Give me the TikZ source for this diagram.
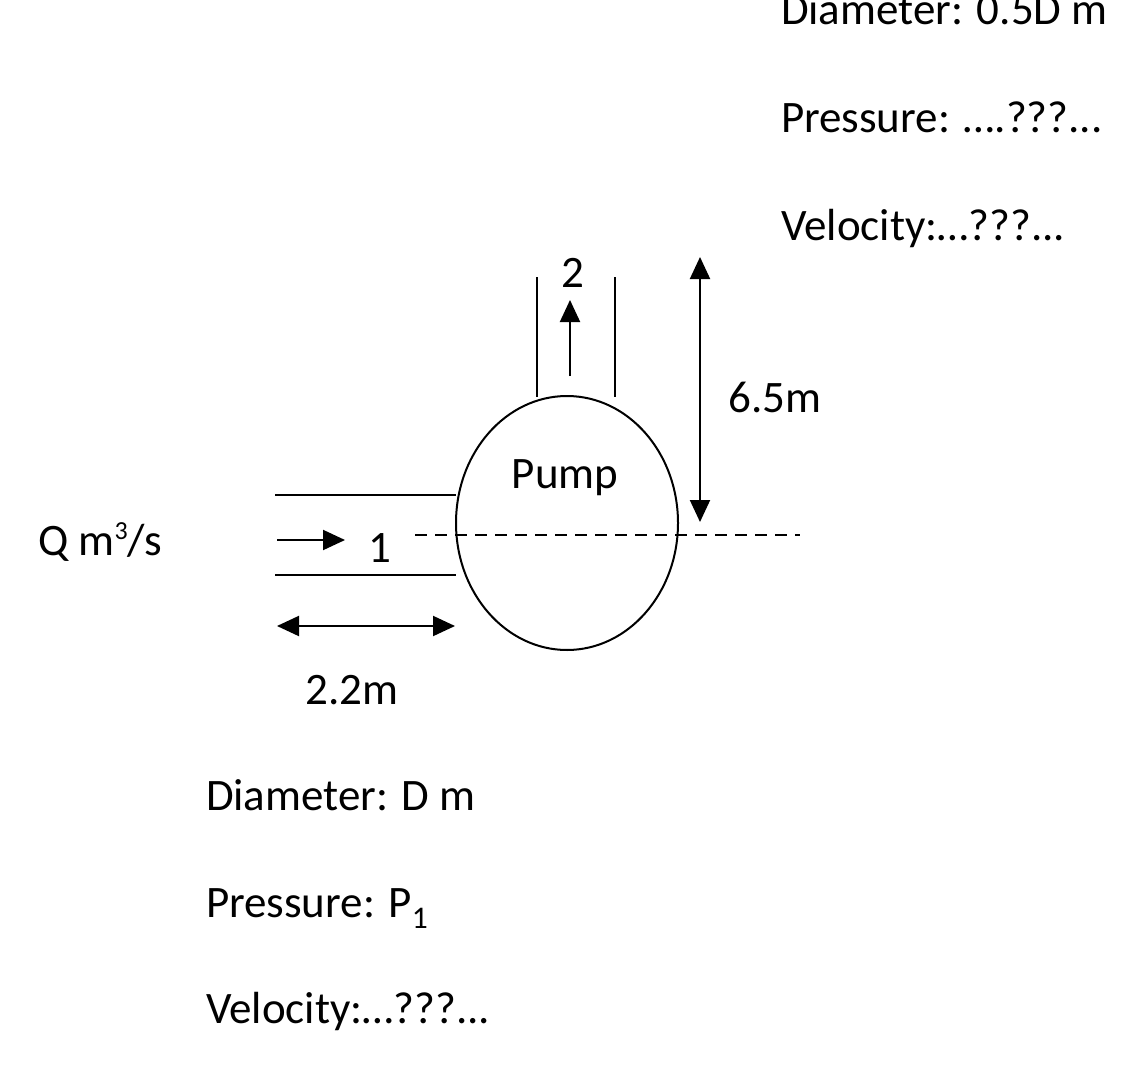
\documentclass[tikz,border=0pt]{standalone}
\usepackage{fontspec}
\setmainfont{Carlito}
\usetikzlibrary{arrows.meta,shapes.geometric}
\begin{document}
\begin{tikzpicture}[x=1pt,y=-1pt,line width=2pt,
  lbl/.style={font=\fontsize{45}{50}\selectfont,inner sep=0pt},
  tip/.style={-{Triangle[length=22pt,width=20pt]}},
  dtip/.style={{Triangle[length=22pt,width=20pt]}-{Triangle[length=22pt,width=20pt]}}]
\useasboundingbox (0,0) rectangle (1132,1089);
\node[lbl,anchor=base west] (t1) at (780,25) {Diameter: 0.5D m};
\node[lbl,anchor=base west] (t2) at (780,133) {Pressure: ….???...};
\node[lbl,anchor=base west] (t3) at (780,240) {Velocity:…???...};
\node[lbl,anchor=base west] (b1) at (205,810) {Diameter: D m};
\node[lbl,anchor=base west] (b2) at (205,917) {Pressure: P\textsubscript{1}};
\node[lbl,anchor=base west] (b3) at (205,1023) {Velocity:…???...};
\node[draw,ellipse,minimum width=222pt,minimum height=254pt,inner sep=0pt] (pump) at (567,523) {};
\node[lbl] (pl) at (565,478) {Pump};
\draw (537,277) -- (537,397);
\draw (615,277) -- (615,397);
\node[lbl] (n2) at (573,273) {2};
\coordinate (a1) at (570,376); \coordinate (a2) at (570,300);
\draw[tip] (a1) -- (a2);
\coordinate (h1) at (700,257); \coordinate (h2) at (700,522);
\draw[dtip] (h1) -- (h2);
\node[lbl] (h) at (775,397) {6.5m};
\draw (275,495) -- (456,495);
\draw (275,575) -- (456,575);
\coordinate (r1) at (277,540); \coordinate (r2) at (345,540);
\draw[tip] (r1) -- (r2);
\node[lbl] (n1) at (380,548) {1};
\draw[dashed,dash pattern=on 12pt off 8pt] (415,535) -- (800,535);
\node[lbl] (q) at (100,542) {Q m\raisebox{16pt}{\fontsize{26}{26}\selectfont 3}/s};
\coordinate (l1) at (277,626); \coordinate (l2) at (455,626);
\draw[dtip] (l1) -- (l2);
\node[lbl] (l) at (352,690) {2.2m};
\end{tikzpicture}
\end{document}
